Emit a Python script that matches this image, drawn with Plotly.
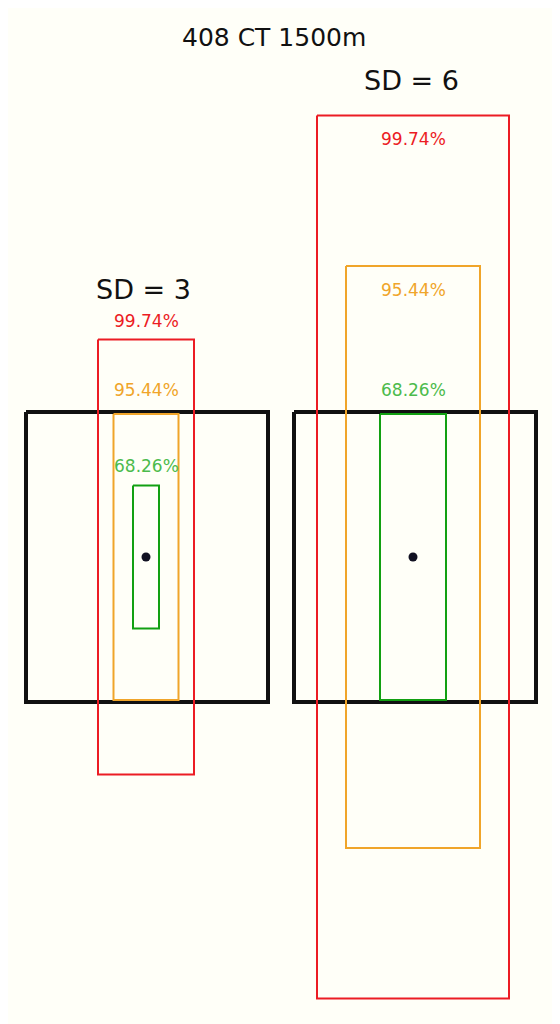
import plotly.graph_objects as go

# panel data (units = px-like chart units, y grows downward)
panels = ["SD = 3", "SD = 6"]
centers_x = [147, 415]
dot_x = [146, 413]
center_y = 557
title_y = [289, 80]
levels = ["68.26%", "95.44%", "99.74%"]
level_colors = ["#12a012", "#f0a52a", "#ec1c24"]
label_colors = ["#4cbb4c", "#f0a52a", "#ec1c24"]
half_w = [[13, 32.5, 48], [33, 67, 96]]
half_h = [[71.5, 143, 217.5], [143, 291, 441.5]]
label_y = [[466, 390, 321], [390, 290, 139]]
target_half_w = 121
target_half_h = 145

def rect(cx, cy, hw, hh):
    xs = [cx - hw, cx + hw, cx + hw, cx - hw, cx - hw]
    ys = [cy - hh, cy - hh, cy + hh, cy + hh, cy - hh]
    return xs, ys

fig = go.Figure()
for p in range(2):
    cx = centers_x[p]
    xs, ys = rect(cx, center_y, target_half_w, target_half_h)
    fig.add_trace(go.Scatter(x=xs, y=ys, mode="lines", line=dict(color="#111111", width=4), hoverinfo="skip"))
    for i, lv in enumerate(levels):
        xs, ys = rect(dot_x[p], center_y, half_w[p][i], half_h[p][i])
        fig.add_trace(go.Scatter(x=xs, y=ys, mode="lines", line=dict(color=level_colors[i], width=2), hoverinfo="skip"))
        fig.add_annotation(x=dot_x[p], y=label_y[p][i], text=lv, showarrow=False,
                           font=dict(size=17, color=label_colors[i]))
    fig.add_trace(go.Scatter(x=[dot_x[p]], y=[center_y], mode="markers",
                             marker=dict(color="#111122", size=9)))
    fig.add_annotation(x=cx - 4, y=title_y[p], text=panels[p], showarrow=False,
                       font=dict(size=27, color="#111111"))

fig.add_annotation(x=274, y=37, text="408 CT 1500m", showarrow=False,
                   font=dict(size=25, color="#111111"))

# page renders the figure offset by the body margin, so shift the ranges
fig.update_xaxes(range=[8, 568], visible=False)
fig.update_yaxes(range=[1032, 8], visible=False)
fig.update_layout(width=560, height=1024, margin=dict(l=0, r=0, t=0, b=0),
                  showlegend=False, paper_bgcolor="#fffff8", plot_bgcolor="#fffff8",
                  font=dict(family="DejaVu Sans"))
fig.write_html("out.html")
